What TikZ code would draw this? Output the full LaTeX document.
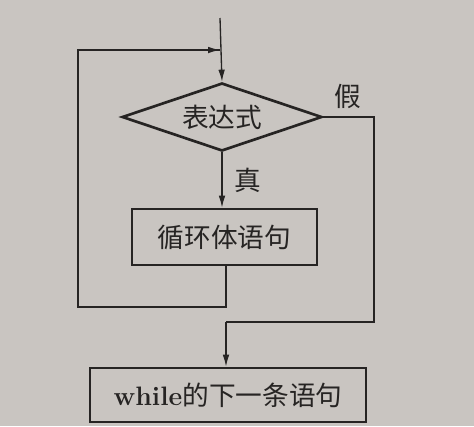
\documentclass[tikz,border=0pt]{standalone}
\usepackage{fontspec}
\newfontfamily\cjk{Noto Sans CJK SC}
\usetikzlibrary{shapes.geometric,arrows.meta}
\definecolor{paper}{RGB}{201,197,193}
\definecolor{ink}{RGB}{38,36,35}
\tikzset{every picture/.style={line width=0.75pt}}
\tikzset{
	flowbox/.style={draw=ink, line width=2pt, inner sep=0pt, font=\cjk\fontsize{20}{24}\selectfont, text=ink},
	flowarrow/.style={draw=ink, line width=1pt, -{Latex[length=9pt,width=5pt]}},
	flowline/.style={draw=ink, line width=1pt}}

\begin{document}
\begin{tikzpicture}[x=0.75pt,y=0.75pt,yscale=-1,xscale=1]
	% paper background
	\fill [paper] (0,0) rectangle (474,426);
	\useasboundingbox (0,0) rectangle (474,426);

	%Shape: Diamond [id:test]
	\node [flowbox, diamond, aspect=3, minimum width=150pt, minimum height=51pt] (test) at (222,117) {表达式};
	%Shape: Rectangle [id:body]
	\node [flowbox, rectangle, minimum width=138.75pt, minimum height=42pt] (body) at (224.5,237) {循环体语句};
	%Shape: Rectangle [id:next]
	\node [flowbox, rectangle, minimum width=207pt, minimum height=40.5pt] (next) at (228,395) {{\rmfamily\bfseries while}的下一条语句};

	% Coordinates
	\coordinate (entry) at (220,18);
	\coordinate (join) at (220,50);
	\coordinate (backR) at (226,307);
	\coordinate (backL) at (78,307);
	\coordinate (backT) at (78,50);
	\coordinate (falseR) at (374,117);
	\coordinate (falseB) at (374,322);
	\coordinate (falseL) at (226,322);

	% Connectors
	\draw [flowarrow] (entry) -- (test.north);
	\draw [flowarrow] (test.south) -- (test.south |- body.north);
	\draw [flowline] (body.south -| backR) -- (backR) -- (backL) -- (backT) -- (join);
	\draw [flowarrow] (backT) -- (join);
	\draw [flowline] (test.east) -- (falseR) -- (falseB) -- (falseL);
	\draw [flowarrow] (falseL) -- (falseL |- next.north);

	% Text Node
	\draw (348,96) node [font=\cjk\fontsize{20}{24}\selectfont, text=ink] (nolabel) {假};
	% Text Node
	\draw (248,180) node [font=\cjk\fontsize{20}{24}\selectfont, text=ink] (yeslabel) {真};
\end{tikzpicture}
\end{document}
